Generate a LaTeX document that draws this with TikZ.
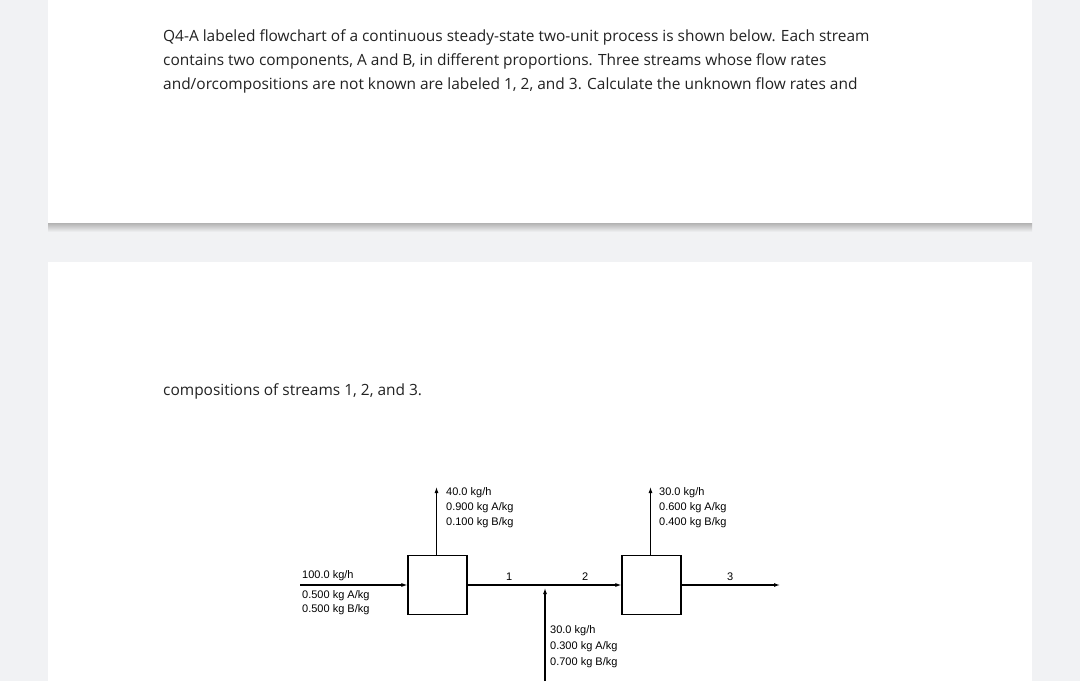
\documentclass[tikz,border=0pt]{standalone}
\usepackage{fontspec}
\usetikzlibrary{arrows.meta}
\setmainfont{Open Sans}
\newfontfamily\diagfont{Liberation Sans}
\definecolor{bg}{HTML}{F1F2F4}
\definecolor{txt}{HTML}{222222}
\begin{document}
\begin{tikzpicture}[x=1pt,y=-1pt,
  q/.style={anchor=base west,inner sep=0pt,font=\fontsize{15.45}{18}\selectfont,text=txt},
  lab/.style={anchor=base west,inner sep=0pt,font=\diagfont\fontsize{11}{13}\selectfont},
  unit/.style={draw,line width=1.1pt,minimum width=59pt,minimum height=59pt,inner sep=0pt},
  flow/.style={line width=1.1pt,-{Latex[length=6pt,width=4pt]}}]
\fill[bg] (0,0) rectangle (1080,681);
\fill[white] (48,0) rectangle (1032,224);
\fill[white] (48,262) rectangle (1032,681);
\shade[top color=gray!55,bottom color=bg] (48,224) rectangle (1032,232);
\node[q] (l1) at (163,42) {Q4-A labeled flowchart of a continuous steady-state two-unit process is shown below. Each stream};
\node[q] (l2) at (163,66) {contains two components, A and B, in different proportions. Three streams whose flow rates};
\node[q] (l3) at (163,90) {and/orcompositions are not known are labeled 1, 2, and 3. Calculate the unknown flow rates and};
\node[q] (l4) at (163,396) {compositions of streams 1, 2, and 3.};
\node[unit] (u1) at (437.5,585) {};
\node[unit] (u2) at (651.5,585) {};
\coordinate (in) at (300,585);
\coordinate (out) at (780,585);
\coordinate (top1) at (436.5,487);
\coordinate (top2) at (650.5,487);
\coordinate (bot) at (545,681);
\coordinate (mix) at (545,588);
\draw[flow] (in) -- (u1.west);
\draw[flow] (u1.east) -- (u2.west);
\draw[flow] (u2.east) -- (out);
\draw[flow] (u1.north -| top1) -- (top1);
\draw[flow] (u2.north -| top2) -- (top2);
\draw[flow] (bot) -- (mix);
\node[lab] (fin) at (302,578) {100.0 kg/h};
\node[lab] (cin1) at (302,598) {0.500 kg A/kg};
\node[lab] (cin2) at (302,612) {0.500 kg B/kg};
\node[lab] (s1) at (506,580) {1};
\node[lab] (s2) at (582,580) {2};
\node[lab] (s3) at (727,580) {3};
\node[lab] (t1a) at (446,496) {40.0 kg/h};
\node[lab] (t1b) at (446,510) {0.900 kg A/kg};
\node[lab] (t1c) at (446,525) {0.100 kg B/kg};
\node[lab] (t2a) at (659,496) {30.0 kg/h};
\node[lab] (t2b) at (659,510) {0.600 kg A/kg};
\node[lab] (t2c) at (659,525) {0.400 kg B/kg};
\node[lab] (b1a) at (550,633) {30.0 kg/h};
\node[lab] (b1b) at (550,649) {0.300 kg A/kg};
\node[lab] (b1c) at (550,665) {0.700 kg B/kg};
\end{tikzpicture}
\end{document}
